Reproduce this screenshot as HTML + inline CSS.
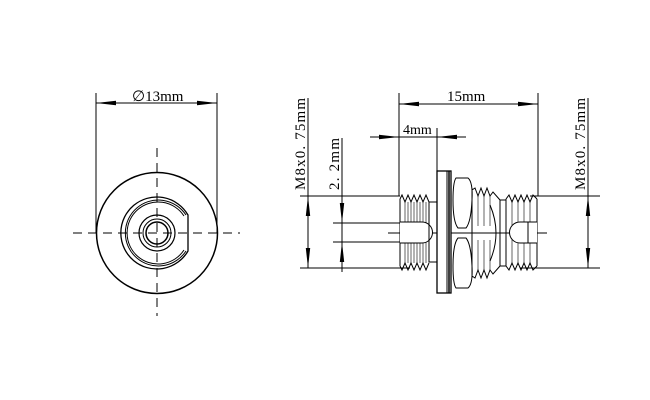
<!DOCTYPE html>
<html><head><meta charset="utf-8"><style>
html,body{margin:0;padding:0;background:#fff;width:650px;height:400px;overflow:hidden}
text{font-family:"Liberation Serif",serif;fill:#000}
</style></head><body>
<svg width="650" height="400" viewBox="0 0 650 400" xmlns="http://www.w3.org/2000/svg">
<defs>
<marker id="a" viewBox="0 0 20 6" refX="20" refY="3" markerWidth="20" markerHeight="6" markerUnits="userSpaceOnUse" orient="auto"><path d="M0,0.8 L20,3 L0,5.2 Z" fill="#000"/></marker>
</defs>
<g stroke="#000" fill="none" stroke-width="1">
<!-- Left view -->
<line x1="96" y1="93" x2="96" y2="233"/>
<line x1="217" y1="93" x2="217" y2="233"/>
<line x1="130" y1="103" x2="96" y2="103" marker-end="url(#a)"/>
<line x1="190" y1="103" x2="217" y2="103" marker-end="url(#a)"/>
<line x1="130" y1="103" x2="190" y2="103"/>
<circle cx="157" cy="233" r="60.5" stroke-width="1.5"/>
<path d="M188,215 A36,36 0 1 0 188,251 Z" stroke-width="1.3"/>
<path d="M186,215 A33,33 0 1 0 186,251"/>
<path d="M184,216 A31,31 0 1 0 184,250"/>
<circle cx="157" cy="233" r="18" stroke-width="1.2"/>
<circle cx="157" cy="233" r="14"/>
<circle cx="157" cy="233" r="11" stroke-width="1.5"/>
<line x1="73" y1="233" x2="240" y2="233" stroke-dasharray="9,6"/>
<line x1="157" y1="148" x2="157" y2="316" stroke-dasharray="9,6"/>

<!-- Right view dims -->
<line x1="399" y1="93" x2="399" y2="196"/>
<line x1="538" y1="93" x2="538" y2="196"/>
<line x1="440" y1="104" x2="399" y2="104" marker-end="url(#a)"/>
<line x1="500" y1="104" x2="538" y2="104" marker-end="url(#a)"/>
<line x1="440" y1="104" x2="500" y2="104"/>
<line x1="370" y1="137" x2="399" y2="137" marker-end="url(#a)"/>
<line x1="466" y1="137" x2="437" y2="137" marker-end="url(#a)"/>
<line x1="399" y1="137" x2="437" y2="137"/>
<line x1="437" y1="128" x2="437" y2="171"/>
<line x1="300" y1="196" x2="400" y2="196"/>
<line x1="300" y1="268" x2="410" y2="268"/>
<line x1="308" y1="98" x2="308" y2="268"/>
<line x1="308" y1="230" x2="308" y2="196" marker-end="url(#a)"/>
<line x1="308" y1="234" x2="308" y2="268" marker-end="url(#a)"/>
<line x1="333" y1="223" x2="400" y2="223"/>
<line x1="333" y1="242" x2="400" y2="242"/>
<line x1="342" y1="138" x2="342" y2="272"/>
<line x1="342" y1="200" x2="342" y2="223" marker-end="url(#a)"/>
<line x1="342" y1="265" x2="342" y2="242" marker-end="url(#a)"/>
<line x1="530" y1="196" x2="600" y2="196"/>
<line x1="520" y1="268" x2="600" y2="268"/>
<line x1="588" y1="98" x2="588" y2="268"/>
<line x1="588" y1="230" x2="588" y2="196" marker-end="url(#a)"/>
<line x1="588" y1="234" x2="588" y2="268" marker-end="url(#a)"/>
<line x1="388" y1="233" x2="547" y2="233"/>

<!-- left thread -->
<polyline points="400,199 402,195 405,202 408,195 411,202 414,195 417,202 420,195 423,202 426,195 429,202"/>
<polyline points="400,266 402,270 405,263 408,270 411,263 414,270 417,263 420,270 423,263 426,270 429,263"/>
<line x1="400" y1="199" x2="400" y2="266"/>
<path d="M405,202 L405,263 M408,202 L408,263 M411,202 L411,263 M414,202 L414,263 M417,202 L417,263 M420,202 L420,263 M423,202 L423,263 M426,202 L426,263" stroke-width="0.6"/>
<path d="M400,222 L422,222 A10,10 0 0 1 422,243 L400,243" fill="#fff"/>
<rect x="429" y="202" width="8" height="60"/>
<rect x="437" y="171" width="14" height="122" fill="#fff" stroke-width="1.3"/>
<line x1="447" y1="171" x2="447" y2="293"/>
<line x1="449" y1="171" x2="449" y2="293" stroke-width="1.5"/>
<!-- hex nut -->
<path d="M456,178 L468,178 Q473,182 472,200 Q471,222 466,228 L458,228 Q453,222 453,200 Q453,182 456,178 Z" fill="#fff"/>
<path d="M456,288 L468,288 Q473,284 472,266 Q471,244 466,238 L458,238 Q453,244 453,266 Q453,284 456,288 Z" fill="#fff"/>
<line x1="453" y1="233" x2="472" y2="233"/>
<!-- right body -->
<polyline points="472,190 475,188 478,196 481,188 484,196 487,188 490,196 493,192 500,200"/>
<polyline points="472,276 475,278 478,270 481,278 484,270 487,278 490,270 493,274 500,266"/>
<path d="M478,196 L478,226 M484,196 L484,226 M490,196 L490,226 M478,240 L478,270 M484,240 L484,270 M490,240 L490,270" stroke-width="0.6"/>
<path d="M472,188 L472,278"/>
<path d="M490,205 Q502,233 490,261"/>
<rect x="500" y="200" width="6" height="66"/>
<polyline points="506,199 509,195 512,202 515,195 518,202 521,195 524,202 527,195 530,202 533,195 537,199"/>
<polyline points="506,266 509,270 512,263 515,270 518,263 521,270 524,263 527,270 530,263 533,270 537,266"/>
<line x1="537" y1="199" x2="537" y2="266"/>
<line x1="506" y1="199" x2="506" y2="266"/>
<path d="M512,202 L512,263 M518,202 L518,263 M524,202 L524,263 M530,202 L530,263" stroke-width="0.6"/>
<path d="M537,222 L520,222 A10,10 0 0 0 520,243 L537,243" fill="#fff"/>
<line x1="528" y1="222" x2="528" y2="243"/>
</g>
<text x="132" y="101" font-size="15">∅13mm</text>
<text x="447" y="101" font-size="15">15mm</text>
<text x="403" y="134" font-size="14">4mm</text>
<text transform="translate(305,190) rotate(-90)" font-size="15" textLength="92">M8x0. 75mm</text>
<text transform="translate(339,190) rotate(-90)" font-size="15" textLength="52">2. 2mm</text>
<text transform="translate(585,190) rotate(-90)" font-size="15" textLength="92">M8x0. 75mm</text>
</svg>
</body></html>
